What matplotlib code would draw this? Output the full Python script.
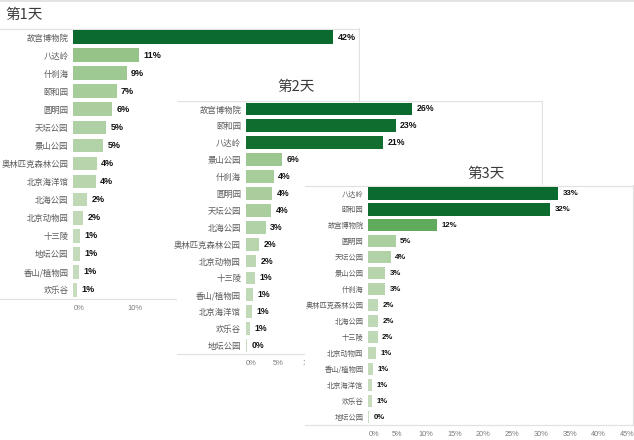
import matplotlib
matplotlib.use('Agg')
from matplotlib import pyplot as plt
from matplotlib.colors import LinearSegmentedColormap
from matplotlib.lines import Line2D

# 数据: 每天各景点占比 (%)
day1_names = ['故宫博物院', '八达岭', '什刹海', '颐和园', '圆明园', '天坛公园', '景山公园',
              '奥林匹克森林公园', '北京海洋馆', '北海公园', '北京动物园', '十三陵', '地坛公园',
              '香山/植物园', '欢乐谷']
day1_values = [42, 10.6, 8.6, 7.0, 6.2, 5.3, 4.8, 3.8, 3.6, 2.2, 1.6, 1.1, 1.1, 0.9, 0.6]

day2_names = ['故宫博物院', '颐和园', '八达岭', '景山公园', '什刹海', '圆明园', '天坛公园',
              '北海公园', '奥林匹克森林公园', '北京动物园', '十三陵', '香山/植物园', '北京海洋馆',
              '欢乐谷', '地坛公园']
day2_values = [26.0, 23.4, 21.4, 5.6, 4.3, 4.1, 3.9, 3.1, 2.1, 1.6, 1.4, 1.15, 0.95, 0.7, 0.2]

day3_names = ['八达岭', '颐和园', '故宫博物院', '圆明园', '天坛公园', '景山公园', '什刹海',
              '奥林匹克森林公园', '北海公园', '十三陵', '北京动物园', '香山/植物园', '北京海洋馆',
              '欢乐谷', '地坛公园']
day3_values = [33.0, 31.6, 11.9, 4.75, 3.9, 2.95, 2.9, 1.75, 1.7, 1.6, 1.3, 0.9, 0.7, 0.6, 0.1]

titles = ['第1天', '第2天', '第3天']
# 只保留没被后面面板盖住的刻度
day1_ticks = [0, 10]
day2_ticks = [0, 5, 10]
day3_ticks = [0, 5, 10, 15, 20, 25, 30, 35, 40, 45]

W, H = 634, 440

def frac(l, t, r, b):
    # 像素坐标 -> figure 坐标
    return [l / W, 1 - b / H, (r - l) / W, (b - t) / H]

# 版面: 面板区域, 坐标轴区域, 标题位置, 字号
layout = [
    dict(panel=(0, 28, 359.5, 322), axes=(73.3, 28, 359.5, 299), xmax=46.2,
         title=(5, 15), cat=6.0, val=6.5, tick=5.4),
    dict(panel=(177, 100.5, 543, 376), axes=(246, 100.5, 543, 354), xmax=46.4,
         title=(277, 87), cat=6.0, val=6.3, tick=5.4),
    dict(panel=(305, 185.5, 634, 440), axes=(368.3, 185.5, 634, 425), xmax=46.2,
         title=(467, 174), cat=5.2, val=5.6, tick=5.3),
]

cmap = LinearSegmentedColormap.from_list('greens', [
    (0.0, '#c9ddc0'), (0.25, '#96c488'), (0.37, '#5aa957'),
    (0.6, '#1c7634'), (1.0, '#0b6a2d')])

cjk = ['Noto Sans CJK SC', 'DejaVu Sans']
line_col = '#e2e2e2'

fig = plt.figure(figsize=(W / 100, H / 100), dpi=100)
fig.patch.set_facecolor('white')
fig.add_artist(Line2D([0, 1], [1 - 1 / H, 1 - 1 / H], color='#dedede', lw=1.2))

data = [(day1_names, day1_values, day1_ticks),
        (day2_names, day2_values, day2_ticks),
        (day3_names, day3_values, day3_ticks)]

for i, (lay, (names, values, ticks)) in enumerate(zip(layout, data)):
    pl, pt, pr, pb = lay['panel']
    al, at, ar, ab = lay['axes']

    # 白色面板背景 + 浅灰边线
    bg = fig.add_axes(frac(pl, pt, pr, pb), zorder=2 * i + 1)
    bg.set_facecolor('white')
    bg.set_xlim(pl, pr)
    bg.set_ylim(pb, pt)
    for s in bg.spines.values():
        s.set_visible(False)
    bg.set_xticks([])
    bg.set_yticks([])
    bg.plot([pl, pr], [at + 0.5, at + 0.5], color=line_col, lw=0.9)
    bg.plot([pl, pr], [ab, ab], color=line_col, lw=0.9)
    bg.plot([pr - 0.6, pr - 0.6], [at, ab], color=line_col, lw=0.9)

    ax = fig.add_axes(frac(al, at, ar, ab), zorder=2 * i + 2)
    ax.set_facecolor('none')
    for s in ax.spines.values():
        s.set_visible(False)

    vmax = max(values)
    colors = [cmap(v / vmax) for v in values]
    ypos = list(range(len(names)))
    ax.barh(ypos, values, height=0.76, color=colors)
    for y, v in zip(ypos, values):
        ax.annotate(f'{round(v)}%', (v, y), xytext=(3.2, 0), textcoords='offset points',
                    va='center', ha='left', fontsize=lay['val'], fontweight='bold',
                    family='Liberation Sans', color='#111111')

    ax.set_ylim(len(names) - 0.5, -0.5)
    ax.set_yticks(ypos)
    ax.set_yticklabels(names, family=cjk, fontsize=lay['cat'], color='#5a5a5a')
    ax.set_xlim(0, lay['xmax'])
    ax.set_xticks(ticks)
    labels = ax.set_xticklabels([f'{t}%' for t in ticks], family='Liberation Sans',
                                fontsize=lay['tick'], color='#7a7a7a')
    labels[0].set_ha('left')
    ax.tick_params(axis='both', length=0)
    ax.tick_params(axis='y', pad=3.5)
    ax.tick_params(axis='x', pad=4.5)

    tx, ty = lay['title']
    fig.text(tx / W, 1 - ty / H, titles[i], family=cjk, fontsize=10.5, color='#3a3a3a',
             ha='left', va='center', zorder=20)

fig.savefig('out.png', dpi=100, facecolor='white')
